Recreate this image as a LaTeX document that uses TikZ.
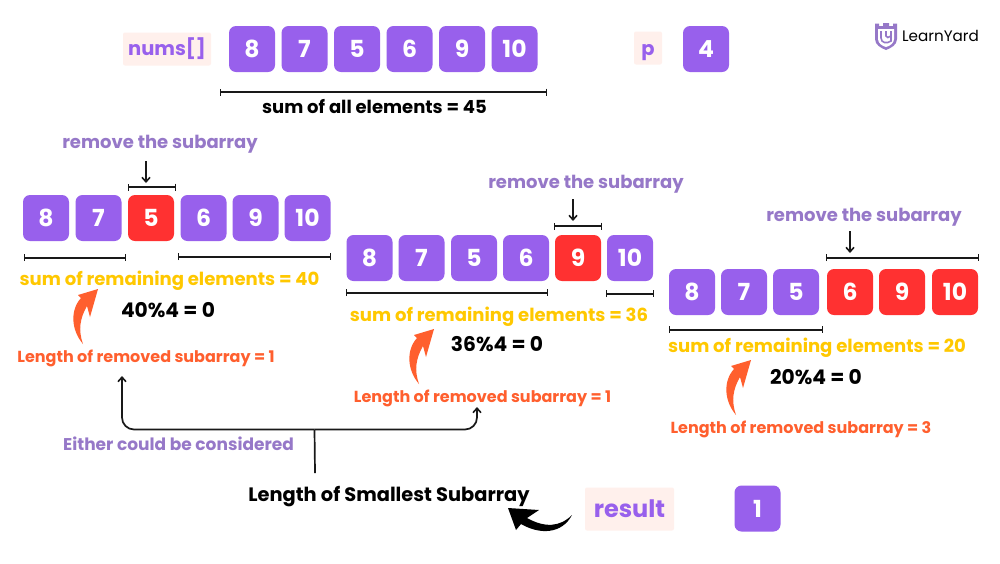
\documentclass[tikz,border=0pt]{standalone}
\usepackage{fontspec}
\setmainfont{Poppins}
\usetikzlibrary{arrows.meta}
\definecolor{boxpurple}{HTML}{9860EC}
\definecolor{boxred}{HTML}{FF3131}
\definecolor{headpurple}{HTML}{9678C8}
\definecolor{sumyellow}{HTML}{FFC800}
\definecolor{lenorange}{HTML}{FF5F2E}
\definecolor{tagpink}{HTML}{FFF0EC}
\newcommand{\fs}[1]{\fontsize{#1}{#1}\selectfont\bfseries}
\newcommand{\swooshpath}{(83,344) .. controls (71,330) and (70,310) .. (81,298) -- (78,295) -- (98,289) -- (90,317) -- (87,306) .. controls (80,318) and (78,330) .. (83,344) -- cycle}
\tikzset{
  x=1pt,y=-1pt,
  cell/.style={draw=none,fill=boxpurple,rounded corners=7pt,minimum width=46pt,minimum height=46pt,inner sep=0pt,text=white,font=\fs{23.5}},
  redcell/.style={cell,fill=boxred},
  tag/.style={fill=tagpink,rounded corners=2pt,inner sep=0pt,text=boxpurple},
  bracket/.style={draw=black!90,line width=2pt,{Bar[width=7pt,line width=1.3pt]}-{Bar[width=7pt,line width=1.3pt]}},
  arrowdown/.style={draw=black!90,line width=1.7pt,-{Straight Barb[length=4.5pt,width=8pt,line width=1.6pt]}},
  headtext/.style={inner sep=0pt,text=headpurple,font=\fs{18}},
  sumtext/.style={inner sep=0pt,text=sumyellow,font=\fs{18.05}},
  modtext/.style={inner sep=0pt,text=black,font=\fs{20.2}},
  lentext/.style={inner sep=0pt,text=lenorange,font=\fs{16}},
  blacktext/.style={inner sep=0pt,text=black,font=\fs{18}},
  elbow/.style={draw=black!90,line width=1.7pt,rounded corners=12pt,-{Straight Barb[length=4.5pt,width=8pt,line width=1.6pt]}},
  plainline/.style={draw=black!90,line width=1.7pt},
  swoosh/.style={fill=lenorange,draw=none},
}
\begin{document}
\begin{tikzpicture}
\useasboundingbox[fill=white] (0,0) rectangle (1000,563);
% top
\node[tag,minimum width=88pt,minimum height=33pt,font=\fs{19.5}] (numstag) at (167,49) {nums[]};
\foreach \n/\x/\t in {a/252/8,b/304.5/7,c/357/5,d/409.5/6,e/462/9,f/514.5/10}
  \node[cell] (top\n) at (\x,49) {\t};
\node[tag,minimum width=28pt,minimum height=33pt,text depth=0pt,font=\fs{19.5}] (ptag) at (648,48) {\raisebox{-3pt}{p}};
\node[cell] (pval) at (706,49) {4};
\coordinate (tl) at (220,92); \coordinate (tr) at (547,92);
\draw[bracket] (tl) -- (tr);
\node[blacktext] (sumall) at (374.5,106.5) {sum of all elements = 45};
% logo
\fill[headpurple] (875,23.5) -- (879,23.5) -- (879,26) -- (883,26) -- (883,23) -- (889,23) -- (889,26) -- (893,26) -- (893,23.5) -- (897,23.5) -- (897,39) .. controls (897,45) and (891,48) .. (886,50) .. controls (881,48) and (875,45) .. (875,39) -- cycle;
\fill[white] (878,29) -- (894,29) -- (894,39) .. controls (894,43) and (890,46) .. (886,47) .. controls (882,46) and (878,43) .. (878,39) -- cycle;
\draw[headpurple,line width=1.6pt] (881,31) -- (881,38) .. controls (881,43) and (887,44) .. (891,41) -- (891,31);
\draw[headpurple,line width=1.6pt] (886,31) -- (886,36) .. controls (886,38) and (889,38) .. (891,36);
\node[inner sep=0pt,font=\fontsize{15.2}{15.2}\selectfont,text=black] (logo) at (940.5,36) {LearnYard};
% group 1
\foreach \n/\x/\t in {a/46/8,b/98.5/7,d/203.5/6,e/255.5/9,f/307.5/10}
  \node[cell] (one\n) at (\x,218) {\t};
\node[redcell] (onec) at (151,218) {5};
\node[headtext] (headone) at (160,144) {remove the subarray};
\coordinate (o1) at (146,161); \coordinate (o2) at (146,183);
\draw[arrowdown] (o1) -- (o2);
\coordinate (o3) at (127.5,187); \coordinate (o4) at (176,187);
\draw[bracket] (o3) -- (o4);
\coordinate (o5) at (24,257.5); \coordinate (o6) at (126,257.5);
\draw[bracket] (o5) -- (o6);
\coordinate (o7) at (178,256.5); \coordinate (o8) at (331,256.5);
\draw[bracket] (o7) -- (o8);
\node[sumtext] (sumone) at (169.5,281) {sum of remaining elements = 40};
\node[modtext] (modone) at (168,310) {40\%4 = 0};
\node[lentext] (lenone) at (146,358) {Length of removed subarray = 1};
\fill[swoosh] \swooshpath;
% group 2
\foreach \n/\x/\t in {a/369.5/8,b/421.5/7,c/474/5,d/526/6,f/630/10}
  \node[cell] (two\n) at (\x,258) {\t};
\node[redcell] (twoe) at (578,258) {9};
\node[headtext] (headtwo) at (586,184) {remove the subarray};
\coordinate (t1) at (573,199); \coordinate (t2) at (573,221);
\draw[arrowdown] (t1) -- (t2);
\coordinate (t3) at (554,226); \coordinate (t4) at (602,226);
\draw[bracket] (t3) -- (t4);
\coordinate (t5) at (346,292.5); \coordinate (t6) at (548,292.5);
\draw[bracket] (t5) -- (t6);
\coordinate (t7) at (606,293.5); \coordinate (t8) at (654,293.5);
\draw[bracket] (t7) -- (t8);
\node[sumtext] (sumtwo) at (499,317) {sum of remaining elements = 36};
\node[modtext] (modtwo) at (497,344.5) {36\%4 = 0};
\node[lentext] (lentwo) at (482.5,398) {Length of removed subarray = 1};
\begin{scope}[shift={(336,40)}]
\fill[swoosh] \swooshpath;
\end{scope}
% group 3
\foreach \n/\x/\t in {a/692/8,b/744/7,c/796/5}
  \node[cell] (thr\n) at (\x,292) {\t};
\foreach \n/\x/\t in {d/850/6,e/902/9,f/955/10}
  \node[redcell] (thr\n) at (\x,292) {\t};
\node[headtext] (headthr) at (864,217) {remove the subarray};
\coordinate (r1) at (850,231); \coordinate (r2) at (850,253);
\draw[arrowdown] (r1) -- (r2);
\coordinate (r3) at (826,257.5); \coordinate (r4) at (979,257.5);
\draw[bracket] (r3) -- (r4);
\coordinate (r5) at (669,329.5); \coordinate (r6) at (823,329.5);
\draw[bracket] (r5) -- (r6);
\node[sumtext] (sumthr) at (817,348) {sum of remaining elements = 20};
\node[modtext] (modthr) at (816,377) {20\%4 = 0};
\node[lentext] (lenthr) at (801,429) {Length of removed subarray = 3};
\begin{scope}[shift={(653,71)}]
\fill[swoosh] \swooshpath;
\end{scope}
% bottom
\node[headtext,font=\fs{17}] (either) at (178.5,443.5) {Either could be considered};
\node[blacktext,font=\fs{19.4}] (smallest) at (389,496.5) {Length of Smallest Subarray};
\coordinate (v0) at (315,473); \coordinate (v1) at (314.5,429.5);
\coordinate (al) at (122,376); \coordinate (ar) at (477,407);
\draw[plainline] (v0) -- (v1);
\draw[elbow] (v1) -| (al);
\draw[elbow] (v1) -| (ar);
\node[tag,minimum width=89pt,minimum height=43pt,font=\fs{24}] (resulttag) at (629.5,509) {result};
\node[cell] (resval) at (757.5,508.5) {1};
\fill[black] (572,515) .. controls (560,527) and (545,528) .. (527,518) -- (539,510) -- (508,508) -- (516,530) -- (521,524) .. controls (540,535) and (562,534) .. (572,515) -- cycle;
\end{tikzpicture}
\end{document}
